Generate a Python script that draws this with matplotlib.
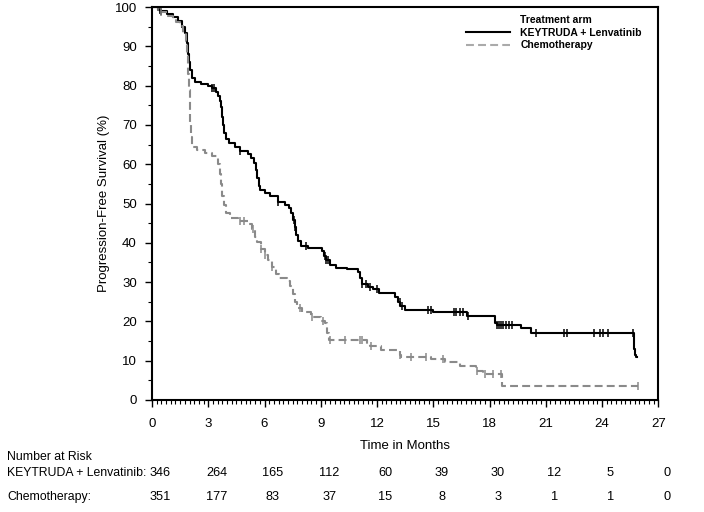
import matplotlib
matplotlib.use("Agg")
import matplotlib.pyplot as plt
import numpy as np
from matplotlib.lines import Line2D
from matplotlib.ticker import MultipleLocator

plt.rcParams['font.family'] = ['Liberation Sans', 'DejaVu Sans']

# KEYTRUDA + Lenvatinib: step times (months) and PFS (%)
k_time = [0, 0.3, 0.5, 0.8, 1.1, 1.4, 1.6, 1.75, 1.85, 1.92, 1.97, 2.05, 2.12, 2.3, 2.6,
          3.0, 3.2, 3.4, 3.5, 3.6, 3.7, 3.75, 3.8, 3.85, 3.95, 4.1, 4.4, 4.7, 5.1, 5.3,
          5.45, 5.55, 5.62, 5.68, 5.75, 6.0, 6.3, 6.7, 7.1, 7.3, 7.4, 7.5, 7.6, 7.7, 7.8,
          7.95, 8.3, 9.05, 9.15, 9.3, 9.5, 9.8, 10.4, 11.0, 11.1, 11.2, 11.5, 11.8, 12.1,
          12.95, 13.1, 13.25, 13.5, 15.0, 16.8, 18.3, 18.4, 19.7, 20.2, 25.7, 25.75, 25.8, 25.85]
k_surv = [100, 99.4, 99, 98.3, 97.5, 96.5, 95, 93.5, 91, 88, 86, 84, 82, 81, 80.4,
          80, 79.5, 78.5, 77.5, 76, 74.5, 72, 70, 68, 66.5, 65.5, 64.3, 63.3, 62.5, 61.5,
          60.3, 58.5, 56.5, 54.5, 53.5, 52.7, 51.9, 50.5, 49.6, 48.9, 47.5, 45.8, 44, 42, 40.5,
          39.3, 38.7, 37.8, 36.6, 35.5, 34.3, 33.6, 33.2, 32.5, 31, 29.5, 28.8, 28.2, 27.2,
          26.2, 25, 23.8, 23, 22.3, 21.4, 19.5, 19.1, 18.2, 17.1, 13, 11.5, 10.8, 10.8]
k_cens = [0.4, 0.5, 3.2, 3.3, 4.7, 6.7, 7.55, 7.65, 8.2, 9.2, 9.3, 9.4, 11.2, 11.4, 11.6,
          12.0, 13.2, 13.35, 14.7, 14.9, 16.1, 16.2, 16.4, 16.6, 16.85, 18.4, 18.5, 18.6,
          18.7, 18.9, 19.05, 19.2, 20.5, 21.95, 22.15, 23.6, 23.9, 24.05, 24.3, 25.65]

# Chemotherapy
c_time = [0, 0.4, 0.8, 1.1, 1.3, 1.5, 1.65, 1.8, 1.88, 1.92, 1.95, 2.0, 2.03, 2.08, 2.12,
          2.4, 2.8, 3.2, 3.5, 3.6, 3.68, 3.75, 3.85, 3.95, 4.15, 4.6, 5.1, 5.35, 5.5, 5.6,
          5.8, 6.0, 6.2, 6.4, 6.6, 6.75, 7.2, 7.35, 7.5, 7.6, 7.75, 8.0, 8.5, 9.0, 9.25,
          9.35, 9.42, 11.45, 11.6, 12.2, 13.2, 13.3, 14.9, 15.6, 16.45, 17.3, 17.65, 18.65, 25.9]
c_surv = [100, 98.8, 97.8, 97, 96.2, 95.2, 93.5, 91.5, 88, 83, 79, 74, 70, 67, 64.5,
          63.6, 62.8, 62.2, 60, 57.5, 55, 52, 49.5, 47.5, 46.2, 45.6, 44.8, 43.4, 41.5, 40.2,
          38.5, 37, 35.5, 33.8, 32, 31, 30.2, 29, 27, 25, 23.5, 22.3, 21.2, 20.2, 19.5,
          17, 15.3, 14.2, 13.6, 12.8, 11.5, 11.0, 10.3, 9.7, 8.6, 7.4, 6.6, 3.6, 3.6]
c_cens = [0.3, 0.5, 4.7, 4.9, 5.4, 5.8, 6.0, 6.4, 7.9, 8.55, 9.1, 9.5, 10.3, 11.1, 11.2,
          11.7, 13.2, 13.8, 14.6, 15.5, 17.35, 17.75, 18.2, 18.6, 25.9]

risk_times = [0, 3, 6, 9, 12, 15, 18, 21, 24, 27]
k_risk = [346, 264, 165, 112, 60, 39, 30, 12, 5, 0]
c_risk = [351, 177, 83, 37, 15, 8, 3, 1, 1, 0]


def step_at(times, surv, t):
    idx = np.searchsorted(times, t, side='right') - 1
    return np.asarray(surv)[idx]


fig = plt.figure(figsize=(7.04, 5.12), dpi=100)
ax = fig.add_axes([0.216, 0.219, 0.719, 0.767])

gray = '#8a8a8a'
ax.step(k_time, k_surv, where='post', color='black', lw=1.5)
ax.step(c_time, c_surv, where='post', color=gray, lw=1.5, dashes=(3.8, 2))
ax.plot(k_cens, step_at(k_time, k_surv, k_cens), ls='none', marker='|',
        color='black', ms=6, mew=1.1)
ax.plot(c_cens, step_at(c_time, c_surv, c_cens), ls='none', marker='|',
        color=gray, ms=6, mew=1.1)

ax.set_xlim(0, 27)
ax.set_ylim(0, 100)
ax.xaxis.set_major_locator(MultipleLocator(3))
ax.xaxis.set_minor_locator(MultipleLocator(0.25))
ax.yaxis.set_major_locator(MultipleLocator(10))
ax.yaxis.set_minor_locator(MultipleLocator(5))
ax.tick_params(which='major', length=5, width=1, labelsize=9.5, color='black')
ax.tick_params(which='minor', length=3, width=0.8)
ax.tick_params(axis='x', pad=8)
ax.tick_params(axis='y', pad=6)
for s in ax.spines.values():
    s.set_linewidth(1.5)

ax.set_xlabel('Time in Months', fontsize=9.5, labelpad=7)
ax.set_ylabel('Progression-Free Survival (%)', fontsize=9.5, labelpad=3)

handles = [Line2D([], [], color='none'),
           Line2D([], [], color='black', lw=1.5),
           Line2D([], [], color='#aaaaaa', lw=1.5, dashes=(3.8, 2))]
labels = ['Treatment arm', 'KEYTRUDA + Lenvatinib', 'Chemotherapy']
leg = ax.legend(handles, labels, loc='upper left', bbox_to_anchor=(461 / 704, 1 - 10 / 512),
                bbox_transform=fig.transFigure, frameon=False, handlelength=4.2,
                handletextpad=1.0, labelspacing=0.25, borderpad=0,
                prop={'weight': 'bold', 'size': 7.5})

# number at risk table
tr = ax.get_xaxis_transform()
fig.text(7 / 704, 1 - 457 / 512, 'Number at Risk', fontsize=8.8, va='center')
fig.text(7 / 704, 1 - 473 / 512, 'KEYTRUDA + Lenvatinib:', fontsize=8.8, va='center')
fig.text(7 / 704, 1 - 497 / 512, 'Chemotherapy:', fontsize=8.8, va='center')
for t, nk, nc in zip(risk_times, k_risk, c_risk):
    ax.text(t + 0.45, -(473 - 400) / 392, str(nk), transform=tr, ha='center', va='center', fontsize=9.2)
    ax.text(t + 0.45, -(497 - 400) / 392, str(nc), transform=tr, ha='center', va='center', fontsize=9.2)

fig.savefig('out.png', dpi=100)
